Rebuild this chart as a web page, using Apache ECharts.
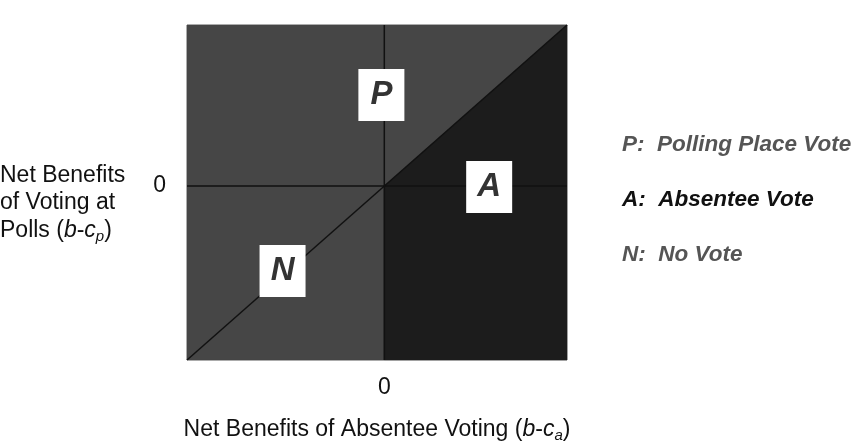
<!DOCTYPE html>
<html>
<head>
<meta charset="utf-8">
<script src="https://cdn.jsdelivr.net/npm/echarts@6/dist/echarts.min.js"></script>
<style>html,body{margin:0;padding:0;background:#fff}#c{width:858px;height:444px}</style>
</head>
<body>
<div id="c"></div>
<script>
// Axis extent (normalized net benefits) and tick labels
var axisMin = -1.08, axisMax = 1;
var tickValues = [0];
// Region polygons
var regionGray = [[-1.08,-1.08],[-1.08,1],[1,1],[0,0],[0,-1.08]];
var regionA = [[0,0],[1,1],[1,-1.08],[0,-1.08]];
// Boundary lines
var diagLine = [[-1.08,-1.08],[1,1]];
var hLine = [[-1.08,0],[1,0]];
var vLine = [[0,-1.08],[0,1]];
// Region labels
var regionLabels = [
  {name:'P', value:[-0.016, 0.565]},
  {name:'A', value:[0.574, -0.006]},
  {name:'N', value:[-0.557, -0.528]}
];
var legendItems = ['P:  Polling Place Vote','A:  Absentee Vote','N:  No Vote'];

var font = 'Liberation Sans, Arial, sans-serif';
function polySeries(pts, color){
  return {
    type:'custom', silent:true, z:1,
    data:[0],
    renderItem:function(params, api){
      return {type:'polygon', shape:{points:pts.map(function(p){return api.coord(p);})},
        style:{fill:color, stroke:color, lineWidth:0.5}};
    }
  };
}
function lineSeries(d){
  return {type:'line', data:d, symbol:'none', silent:true, z:3,
    lineStyle:{color:'#111', width:1.5}, animation:false};
}
var chart = echarts.init(document.getElementById('c'));
chart.setOption({
  animation:false,
  textStyle:{fontFamily:font},
  grid:{left:187, right:291, top:25, bottom:84, outerBoundsMode:'none', containLabel:false,
    show:true, borderColor:'#9a9a9a', borderWidth:1, backgroundColor:'transparent'},
  xAxis:{type:'value', min:axisMin, max:axisMax,
    axisLine:{show:false}, axisTick:{show:false}, splitLine:{show:false},
    axisLabel:{customValues:tickValues, margin:16, fontSize:23, color:'#111', fontFamily:font},
    name:'{n|Net Benefits of Absentee Voting (}{i|b}{n|-}{i|c}{s|a}{n|)}',
    nameLocation:'middle', nameGap:56,
    nameTextStyle:{rich:{
      n:{fontSize:23, color:'#111', fontFamily:font},
      i:{fontSize:23, color:'#111', fontStyle:'italic', fontFamily:font},
      s:{fontSize:15, color:'#111', fontStyle:'italic', fontFamily:font, padding:[12,0,0,0]}
    }}
  },
  yAxis:{type:'value', min:axisMin, max:axisMax,
    axisLine:{show:false}, axisTick:{show:false}, splitLine:{show:false},
    axisLabel:{customValues:tickValues, margin:21, fontSize:23, color:'#111', fontFamily:font}
  },
  graphic:[
    {type:'text', left:0, top:164, style:{
      text:'{n|Net Benefits}\n{n|of Voting at}\n{n|Polls (}{i|b}{n|-}{i|c}{s|p}{n|)}',
      rich:{
        n:{fontSize:23, lineHeight:27.5, fill:'#111', fontFamily:font},
        i:{fontSize:23, lineHeight:27.5, fill:'#111', fontStyle:'italic', fontFamily:font},
        s:{fontSize:15, lineHeight:27.5, fill:'#111', fontStyle:'italic', fontFamily:font, padding:[12,0,0,0]}
      }}},
    {type:'text', left:622, top:133, style:{text:legendItems[0], fontSize:22.5, fontWeight:'bold', fontStyle:'italic', fill:'#555', fontFamily:font}},
    {type:'text', left:622, top:188, style:{text:legendItems[1], fontSize:22.5, fontWeight:'bold', fontStyle:'italic', fill:'#111', fontFamily:font}},
    {type:'text', left:622, top:243, style:{text:legendItems[2], fontSize:22.5, fontWeight:'bold', fontStyle:'italic', fill:'#555', fontFamily:font}}
  ],
  series:[
    polySeries(regionGray, '#464646'),
    polySeries(regionA, '#1c1c1c'),
    lineSeries(diagLine),
    lineSeries(hLine),
    lineSeries(vLine),
    {type:'scatter', z:5, silent:true, data:regionLabels,
      symbol:'rect', symbolSize:[46,52], itemStyle:{color:'#fff', opacity:1},
      label:{show:true, position:'inside', formatter:'{b}', fontSize:33, fontWeight:'bold', fontStyle:'italic', color:'#333', fontFamily:font}}
  ]
});
</script>
</body>
</html>
